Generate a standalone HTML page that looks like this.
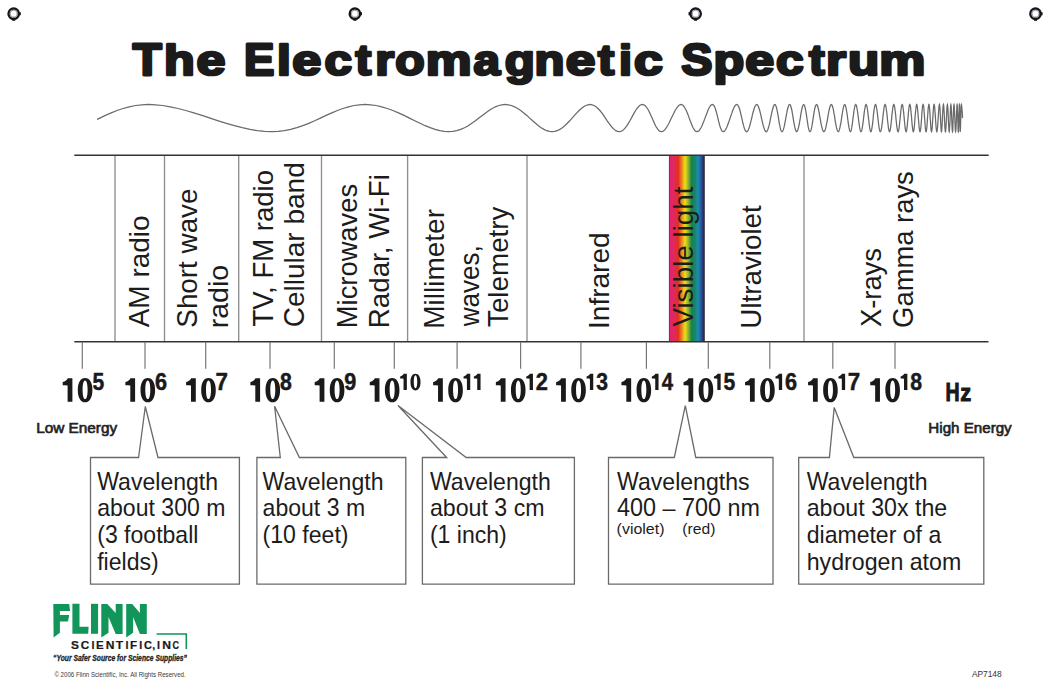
<!DOCTYPE html><html><head><meta charset="utf-8"><style>
html,body{margin:0;padding:0;background:#fff;width:1050px;height:700px;overflow:hidden}
svg{display:block;font-family:'Liberation Sans',sans-serif}
text{font-family:'Liberation Sans',sans-serif}
</style></head><body>
<svg width="1050" height="700" viewBox="0 0 1050 700">
<defs>
<linearGradient id="spec" x1="0" x2="1" y1="0" y2="0">
<stop offset="0" stop-color="#e01f7c"/>
<stop offset="0.15" stop-color="#e02a58"/>
<stop offset="0.26" stop-color="#e0301e"/>
<stop offset="0.36" stop-color="#ee8420"/>
<stop offset="0.45" stop-color="#eee012"/>
<stop offset="0.54" stop-color="#98b032"/>
<stop offset="0.63" stop-color="#0e8a44"/>
<stop offset="0.73" stop-color="#1e806e"/>
<stop offset="0.81" stop-color="#1890b0"/>
<stop offset="0.90" stop-color="#2a5a98"/>
<stop offset="0.97" stop-color="#282466"/>
<stop offset="1" stop-color="#282466"/>
</linearGradient>
</defs>
<rect width="1050" height="700" fill="#fff"/>

<circle cx="13.7" cy="13.7" r="5.15" fill="none" stroke="#161616" stroke-width="2.5"/>
<circle cx="13.7" cy="13.7" r="3.45" fill="none" stroke="#9ea1ad" stroke-width="1.2"/>
<rect x="17.80" y="12.20" width="3" height="3" fill="#161616"/>
<rect x="12.20" y="17.80" width="3" height="3" fill="#161616"/>
<circle cx="354.9" cy="13.7" r="5.15" fill="none" stroke="#161616" stroke-width="2.5"/>
<circle cx="354.9" cy="13.7" r="3.45" fill="none" stroke="#9ea1ad" stroke-width="1.2"/>
<rect x="359.00" y="12.20" width="3" height="3" fill="#161616"/>
<rect x="353.40" y="17.80" width="3" height="3" fill="#161616"/>
<circle cx="695.6" cy="13.7" r="5.15" fill="none" stroke="#161616" stroke-width="2.5"/>
<circle cx="695.6" cy="13.7" r="3.45" fill="none" stroke="#9ea1ad" stroke-width="1.2"/>
<rect x="688.50" y="12.20" width="3" height="3" fill="#161616"/>
<rect x="694.10" y="17.80" width="3" height="3" fill="#161616"/>
<circle cx="1035.5" cy="13.7" r="5.15" fill="none" stroke="#161616" stroke-width="2.5"/>
<circle cx="1035.5" cy="13.7" r="3.45" fill="none" stroke="#9ea1ad" stroke-width="1.2"/>
<rect x="1039.60" y="12.20" width="3" height="3" fill="#161616"/>
<rect x="1034.00" y="17.80" width="3" height="3" fill="#161616"/>
<g font-size="45.0" font-weight="bold" fill="#1b1b1b" stroke="#1b1b1b" stroke-linejoin="round">
<text transform="translate(132.84,74.50) scale(1.0546,1.0)" stroke-width="2.8">T</text>
<text transform="translate(163.95,74.50) scale(1.1168,0.951)" stroke-width="2.8">h</text>
<text transform="translate(196.49,74.50) scale(1.1577,0.951)" stroke-width="2.8">e</text>
<text transform="translate(243.97,74.50) scale(1.0126,1.0)" stroke-width="2.8">E</text>
<text transform="translate(277.08,74.50) scale(1.1031,0.951)" stroke-width="2.8">l</text>
<text transform="translate(292.18,74.50) scale(1.1618,0.951)" stroke-width="2.8">e</text>
<text transform="translate(324.41,74.50) scale(1.0990,0.951)" stroke-width="2.8">c</text>
<text transform="translate(355.49,74.50) scale(1.0487,0.951)" stroke-width="2.8">t</text>
<text transform="translate(375.31,74.50) scale(1.0801,0.951)" stroke-width="2.8">r</text>
<text transform="translate(395.32,74.50) scale(1.0683,0.951)" stroke-width="2.8">o</text>
<text transform="translate(425.81,74.50) scale(1.1442,0.951)" stroke-width="2.8">m</text>
<text transform="translate(473.39,74.50) scale(1.0599,0.951)" stroke-width="2.8">a</text>
<text transform="translate(504.71,74.50) scale(1.0931,0.951)" stroke-width="2.8">g</text>
<text transform="translate(534.40,74.50) scale(1.0884,0.951)" stroke-width="2.8">n</text>
<text transform="translate(565.78,74.50) scale(1.1863,0.951)" stroke-width="2.8">e</text>
<text transform="translate(598.02,74.50) scale(1.0787,0.951)" stroke-width="2.8">t</text>
<text transform="translate(618.89,74.50) scale(1.0363,0.951)" stroke-width="2.8">i</text>
<text transform="translate(633.89,74.50) scale(1.1515,0.951)" stroke-width="2.8">c</text>
<text transform="translate(681.31,74.50) scale(1.0383,1.0)" stroke-width="2.8">S</text>
<text transform="translate(713.45,74.50) scale(1.1187,0.951)" stroke-width="2.8">p</text>
<text transform="translate(745.19,74.50) scale(1.1577,0.951)" stroke-width="2.8">e</text>
<text transform="translate(776.11,74.50) scale(1.1030,0.951)" stroke-width="2.8">c</text>
<text transform="translate(808.89,74.50) scale(1.0427,0.951)" stroke-width="2.8">t</text>
<text transform="translate(826.10,74.50) scale(1.1461,0.951)" stroke-width="2.8">r</text>
<text transform="translate(847.92,74.50) scale(1.1373,0.951)" stroke-width="2.8">u</text>
<text transform="translate(879.30,74.50) scale(1.1523,0.951)" stroke-width="2.8">m</text>
</g>
<path d="M97.1,119.4 99.8,118.1 105.4,115.4 111.2,112.9 117.0,110.5 123.1,108.5 129.2,106.8 135.5,105.5 142.0,104.8 148.6,104.5 155.5,104.8 162.7,105.5 170.2,106.8 177.9,108.5 185.8,110.5 193.8,112.9 202.0,115.4 210.1,118.1 218.3,120.8 226.4,123.3 234.4,125.7 242.3,127.7 250.0,129.4 257.4,130.7 264.6,131.4 271.4,131.7 278.0,131.4 284.4,130.7 290.7,129.4 296.8,127.7 302.9,125.7 308.8,123.3 314.7,120.8 320.4,118.1 326.1,115.4 331.8,112.9 337.4,110.5 342.9,108.5 348.5,106.8 354.0,105.5 359.5,104.8 365.0,104.5 370.5,104.8 376.1,105.5 381.7,106.8 387.3,108.5 392.9,110.5 398.5,112.9 404.0,115.4 409.4,118.1 414.8,120.8 420.0,123.3 425.2,125.7 430.2,127.7 435.1,129.4 439.8,130.7 444.3,131.4 448.6,131.7 452.8,131.4 456.8,130.7 460.7,129.4 464.5,127.7 468.2,125.7 471.8,123.3 475.4,120.8 478.9,118.1 482.3,115.4 485.6,112.9 489.0,110.5 492.2,108.5 495.5,106.8 498.7,105.5 501.9,104.8 505.1,104.5 508.3,104.8 511.4,105.5 514.6,106.8 517.7,108.5 520.7,110.5 523.8,112.9 526.8,115.4 529.7,118.1 532.6,120.8 535.5,123.3 538.4,125.7 541.2,127.7 543.9,129.4 546.7,130.7 549.4,131.4 552.0,131.7 554.6,131.4 557.2,130.7 559.8,129.4 562.3,127.7 564.8,125.7 567.3,123.3 569.7,120.8 572.1,118.1 574.5,115.4 576.8,112.9 579.1,110.5 581.4,108.5 583.6,106.8 585.8,105.5 587.9,104.8 590.0,104.5 592.0,104.8 594.1,105.5 596.0,106.8 598.0,108.5 599.9,110.5 601.8,112.9 603.6,115.4 605.4,118.1 607.2,120.8 609.0,123.3 610.7,125.7 612.5,127.7 614.2,129.4 615.8,130.7 617.5,131.4 619.1,131.7 620.7,131.4 622.3,130.7 623.9,129.4 625.4,127.7 626.9,125.7 628.4,123.3 629.9,120.8 631.4,118.1 632.8,115.4 634.2,112.9 635.6,110.5 637.0,108.5 638.4,106.8 639.7,105.5 641.1,104.8 642.4,104.5 643.7,104.8 645.0,105.5 646.2,106.8 647.4,108.5 648.6,110.5 649.8,112.9 650.9,115.4 652.1,118.1 653.3,120.8 654.4,123.3 655.5,125.7 656.7,127.7 657.9,129.4 659.0,130.7 660.2,131.4 661.4,131.7 662.6,131.4 663.8,130.7 665.1,129.4 666.4,127.7 667.6,125.7 668.9,123.3 670.1,120.8 671.4,118.1 672.7,115.4 673.9,112.9 675.1,110.5 676.4,108.5 677.6,106.8 678.7,105.5 679.9,104.8 681.0,104.5 682.1,104.8 683.2,105.5 684.2,106.8 685.2,108.5 686.3,110.5 687.3,112.9 688.3,115.4 689.2,118.1 690.2,120.8 691.2,123.3 692.2,125.7 693.1,127.7 694.1,129.4 695.1,130.7 696.0,131.4 697.0,131.7 698.0,131.4 699.0,130.7 700.0,129.4 701.0,127.7 702.0,125.7 703.0,123.3 704.0,120.8 705.0,118.1 706.0,115.4 707.0,112.9 707.9,110.5 708.8,108.5 709.8,106.8 710.6,105.5 711.5,104.8 712.3,104.5 713.1,104.8 713.8,105.5 714.6,106.8 715.3,108.5 715.9,110.5 716.6,112.9 717.2,115.4 717.9,118.1 718.5,120.8 719.2,123.3 719.8,125.7 720.5,127.7 721.2,129.4 721.8,130.7 722.6,131.4 723.3,131.7 724.1,131.4 724.9,130.7 725.7,129.4 726.6,127.7 727.4,125.7 728.3,123.3 729.2,120.8 730.1,118.1 731.0,115.4 731.9,112.9 732.7,110.5 733.6,108.5 734.4,106.8 735.2,105.5 736.0,104.8 736.7,104.5 737.4,104.8 738.1,105.5 738.7,106.8 739.4,108.5 740.0,110.5 740.6,112.9 741.2,115.4 741.8,118.1 742.4,120.8 743.0,123.3 743.6,125.7 744.2,127.7 744.8,129.4 745.4,130.7 746.0,131.4 746.6,131.7 747.2,131.4 747.9,130.7 748.5,129.4 749.1,127.7 749.8,125.7 750.4,123.3 751.0,120.8 751.7,118.1 752.3,115.4 752.9,112.9 753.6,110.5 754.2,108.5 754.8,106.8 755.5,105.5 756.1,104.8 756.7,104.5 757.3,104.8 757.9,105.5 758.5,106.8 759.1,108.5 759.7,110.5 760.3,112.9 760.9,115.4 761.5,118.1 762.1,120.8 762.7,123.3 763.3,125.7 763.9,127.7 764.5,129.4 765.1,130.7 765.6,131.4 766.2,131.7 766.8,131.4 767.3,130.7 767.9,129.4 768.4,127.7 769.0,125.7 769.6,123.3 770.1,120.8 770.6,118.1 771.2,115.4 771.7,112.9 772.3,110.5 772.8,108.5 773.3,106.8 773.8,105.5 774.3,104.8 774.8,104.5 775.3,104.8 775.8,105.5 776.2,106.8 776.7,108.5 777.1,110.5 777.6,112.9 778.0,115.4 778.5,118.1 778.9,120.8 779.3,123.3 779.8,125.7 780.2,127.7 780.6,129.4 781.1,130.7 781.5,131.4 782.0,131.7 782.5,131.4 782.9,130.7 783.4,129.4 783.9,127.7 784.4,125.7 784.8,123.3 785.3,120.8 785.8,118.1 786.3,115.4 786.8,112.9 787.2,110.5 787.7,108.5 788.2,106.8 788.7,105.5 789.1,104.8 789.6,104.5 790.1,104.8 790.5,105.5 791.0,106.8 791.4,108.5 791.9,110.5 792.3,112.9 792.7,115.4 793.2,118.1 793.6,120.8 794.1,123.3 794.5,125.7 794.9,127.7 795.4,129.4 795.8,130.7 796.3,131.4 796.7,131.7 797.1,131.4 797.6,130.7 798.0,129.4 798.5,127.7 798.9,125.7 799.4,123.3 799.8,120.8 800.3,118.1 800.7,115.4 801.1,112.9 801.6,110.5 802.0,108.5 802.4,106.8 802.9,105.5 803.3,104.8 803.7,104.5 804.1,104.8 804.5,105.5 804.9,106.8 805.3,108.5 805.7,110.5 806.1,112.9 806.5,115.4 806.9,118.1 807.3,120.8 807.7,123.3 808.0,125.7 808.4,127.7 808.8,129.4 809.2,130.7 809.6,131.4 810.0,131.7 810.4,131.4 810.8,130.7 811.2,129.4 811.6,127.7 812.0,125.7 812.4,123.3 812.8,120.8 813.2,118.1 813.6,115.4 814.0,112.9 814.4,110.5 814.8,108.5 815.2,106.8 815.7,105.5 816.1,104.8 816.5,104.5 816.9,104.8 817.4,105.5 817.8,106.8 818.3,108.5 818.7,110.5 819.2,112.9 819.6,115.4 820.1,118.1 820.6,120.8 821.0,123.3 821.5,125.7 822.0,127.7 822.4,129.4 822.9,130.7 823.4,131.4 823.9,131.7 824.3,131.4 824.8,130.7 825.3,129.4 825.8,127.7 826.2,125.7 826.7,123.3 827.2,120.8 827.7,118.1 828.1,115.4 828.6,112.9 829.0,110.5 829.5,108.5 830.0,106.8 830.4,105.5 830.9,104.8 831.3,104.5 831.7,104.8 832.2,105.5 832.6,106.8 833.1,108.5 833.5,110.5 833.9,112.9 834.4,115.4 834.8,118.1 835.2,120.8 835.7,123.3 836.1,125.7 836.5,127.7 837.0,129.4 837.4,130.7 837.8,131.4 838.2,131.7 838.7,131.4 839.1,130.7 839.5,129.4 839.9,127.7 840.3,125.7 840.8,123.3 841.2,120.8 841.6,118.1 842.0,115.4 842.4,112.9 842.8,110.5 843.2,108.5 843.6,106.8 843.9,105.5 844.3,104.8 844.7,104.5 845.1,104.8 845.4,105.5 845.8,106.8 846.2,108.5 846.5,110.5 846.9,112.9 847.3,115.4 847.6,118.1 848.0,120.8 848.3,123.3 848.7,125.7 849.0,127.7 849.4,129.4 849.7,130.7 850.0,131.4 850.4,131.7 850.7,131.4 851.0,130.7 851.4,129.4 851.7,127.7 852.0,125.7 852.4,123.3 852.7,120.8 853.0,118.1 853.4,115.4 853.7,112.9 854.0,110.5 854.4,108.5 854.7,106.8 855.0,105.5 855.4,104.8 855.7,104.5 856.0,104.8 856.4,105.5 856.7,106.8 857.0,108.5 857.4,110.5 857.7,112.9 858.0,115.4 858.4,118.1 858.7,120.8 859.0,123.3 859.4,125.7 859.7,127.7 860.0,129.4 860.3,130.7 860.7,131.4 861.0,131.7 861.3,131.4 861.7,130.7 862.0,129.4 862.3,127.7 862.6,125.7 862.9,123.3 863.3,120.8 863.6,118.1 863.9,115.4 864.2,112.9 864.5,110.5 864.9,108.5 865.2,106.8 865.5,105.5 865.8,104.8 866.1,104.5 866.4,104.8 866.7,105.5 867.0,106.8 867.3,108.5 867.6,110.5 867.9,112.9 868.2,115.4 868.5,118.1 868.8,120.8 869.1,123.3 869.4,125.7 869.7,127.7 870.0,129.4 870.3,130.7 870.6,131.4 870.8,131.7 871.1,131.4 871.4,130.7 871.7,129.4 872.0,127.7 872.3,125.7 872.6,123.3 872.9,120.8 873.2,118.1 873.4,115.4 873.7,112.9 874.0,110.5 874.3,108.5 874.6,106.8 874.9,105.5 875.2,104.8 875.5,104.5 875.8,104.8 876.1,105.5 876.4,106.8 876.7,108.5 877.0,110.5 877.3,112.9 877.6,115.4 877.9,118.1 878.2,120.8 878.5,123.3 878.8,125.7 879.1,127.7 879.4,129.4 879.7,130.7 880.0,131.4 880.3,131.7 880.7,131.4 881.0,130.7 881.3,129.4 881.6,127.7 881.9,125.7 882.2,123.3 882.5,120.8 882.8,118.1 883.1,115.4 883.4,112.9 883.7,110.5 883.9,108.5 884.2,106.8 884.5,105.5 884.8,104.8 885.1,104.5 885.4,104.8 885.7,105.5 885.9,106.8 886.2,108.5 886.5,110.5 886.8,112.9 887.1,115.4 887.3,118.1 887.6,120.8 887.9,123.3 888.2,125.7 888.4,127.7 888.7,129.4 889.0,130.7 889.3,131.4 889.5,131.7 889.8,131.4 890.1,130.7 890.3,129.4 890.6,127.7 890.9,125.7 891.1,123.3 891.4,120.8 891.7,118.1 891.9,115.4 892.2,112.9 892.5,110.5 892.7,108.5 893.0,106.8 893.3,105.5 893.5,104.8 893.8,104.5 894.1,104.8 894.3,105.5 894.6,106.8 894.9,108.5 895.1,110.5 895.4,112.9 895.7,115.4 895.9,118.1 896.2,120.8 896.5,123.3 896.7,125.7 897.0,127.7 897.3,129.4 897.5,130.7 897.8,131.4 898.1,131.7 898.3,131.4 898.6,130.7 898.9,129.4 899.1,127.7 899.4,125.7 899.6,123.3 899.9,120.8 900.2,118.1 900.4,115.4 900.7,112.9 900.9,110.5 901.2,108.5 901.4,106.8 901.7,105.5 901.9,104.8 902.2,104.5 902.4,104.8 902.7,105.5 902.9,106.8 903.2,108.5 903.4,110.5 903.7,112.9 903.9,115.4 904.2,118.1 904.4,120.8 904.7,123.3 904.9,125.7 905.1,127.7 905.4,129.4 905.6,130.7 905.9,131.4 906.1,131.7 906.3,131.4 906.6,130.7 906.8,129.4 907.0,127.7 907.3,125.7 907.5,123.3 907.7,120.8 908.0,118.1 908.2,115.4 908.4,112.9 908.7,110.5 908.9,108.5 909.1,106.8 909.3,105.5 909.6,104.8 909.8,104.5 910.0,104.8 910.3,105.5 910.5,106.8 910.7,108.5 910.9,110.5 911.1,112.9 911.4,115.4 911.6,118.1 911.8,120.8 912.0,123.3 912.2,125.7 912.5,127.7 912.7,129.4 912.9,130.7 913.1,131.4 913.3,131.7 913.5,131.4 913.8,130.7 914.0,129.4 914.2,127.7 914.4,125.7 914.6,123.3 914.8,120.8 915.0,118.1 915.2,115.4 915.4,112.9 915.7,110.5 915.9,108.5 916.1,106.8 916.3,105.5 916.5,104.8 916.7,104.5 916.9,104.8 917.1,105.5 917.3,106.8 917.5,108.5 917.7,110.5 917.9,112.9 918.1,115.4 918.3,118.1 918.6,120.8 918.8,123.3 919.0,125.7 919.2,127.7 919.4,129.4 919.6,130.7 919.8,131.4 920.0,131.7 920.2,131.4 920.4,130.7 920.6,129.4 920.8,127.7 921.0,125.7 921.2,123.3 921.4,120.8 921.6,118.1 921.8,115.4 921.9,112.9 922.1,110.5 922.3,108.5 922.5,106.8 922.7,105.5 922.9,104.8 923.1,104.5 923.3,104.8 923.5,105.5 923.7,106.8 923.9,108.5 924.0,110.5 924.2,112.9 924.4,115.4 924.6,118.1 924.8,120.8 925.0,123.3 925.2,125.7 925.3,127.7 925.5,129.4 925.7,130.7 925.9,131.4 926.1,131.7 926.3,131.4 926.4,130.7 926.6,129.4 926.8,127.7 927.0,125.7 927.2,123.3 927.3,120.8 927.5,118.1 927.7,115.4 927.9,112.9 928.0,110.5 928.2,108.5 928.4,106.8 928.6,105.5 928.7,104.8 928.9,104.5 929.1,104.8 929.2,105.5 929.4,106.8 929.6,108.5 929.7,110.5 929.9,112.9 930.1,115.4 930.2,118.1 930.4,120.8 930.6,123.3 930.7,125.7 930.9,127.7 931.0,129.4 931.2,130.7 931.4,131.4 931.5,131.7 931.7,131.4 931.8,130.7 932.0,129.4 932.2,127.7 932.3,125.7 932.5,123.3 932.6,120.8 932.8,118.1 933.0,115.4 933.1,112.9 933.3,110.5 933.4,108.5 933.6,106.8 933.8,105.5 933.9,104.8 934.1,104.5 934.3,104.8 934.4,105.5 934.6,106.8 934.8,108.5 934.9,110.5 935.1,112.9 935.3,115.4 935.5,118.1 935.6,120.8 935.8,123.3 936.0,125.7 936.1,127.7 936.3,129.4 936.5,130.7 936.7,131.4 936.8,131.7 937.0,131.4 937.2,130.7 937.3,129.4 937.5,127.7 937.7,125.7 937.8,123.3 938.0,120.8 938.2,118.1 938.3,115.4 938.5,112.9 938.7,110.5 938.8,108.5 939.0,106.8 939.1,105.5 939.3,104.8 939.4,104.5 939.5,104.8 939.7,105.5 939.8,106.8 940.0,108.5 940.1,110.5 940.2,112.9 940.3,115.4 940.5,118.1 940.6,120.8 940.7,123.3 940.9,125.7 941.0,127.7 941.1,129.4 941.2,130.7 941.3,131.4 941.5,131.7 941.6,131.4 941.7,130.7 941.8,129.4 941.9,127.7 942.1,125.7 942.2,123.3 942.3,120.8 942.4,118.1 942.5,115.4 942.7,112.9 942.8,110.5 942.9,108.5 943.0,106.8 943.2,105.5 943.3,104.8 943.4,104.5 943.5,104.8 943.7,105.5 943.8,106.8 943.9,108.5 944.0,110.5 944.2,112.9 944.3,115.4 944.4,118.1 944.5,120.8 944.7,123.3 944.8,125.7 944.9,127.7 945.1,129.4 945.2,130.7 945.3,131.4 945.4,131.7 945.6,131.4 945.7,130.7 945.8,129.4 945.9,127.7 946.1,125.7 946.2,123.3 946.3,120.8 946.4,118.1 946.6,115.4 946.7,112.9 946.8,110.5 946.9,108.5 947.0,106.8 947.2,105.5 947.3,104.8 947.4,104.5 947.5,104.8 947.6,105.5 947.7,106.8 947.9,108.5 948.0,110.5 948.1,112.9 948.2,115.4 948.3,118.1 948.4,120.8 948.5,123.3 948.7,125.7 948.8,127.7 948.9,129.4 949.0,130.7 949.1,131.4 949.2,131.7 949.3,131.4 949.4,130.7 949.5,129.4 949.6,127.7 949.7,125.7 949.9,123.3 950.0,120.8 950.1,118.1 950.2,115.4 950.3,112.9 950.4,110.5 950.5,108.5 950.6,106.8 950.7,105.5 950.8,104.8 950.9,104.5 951.0,104.8 951.1,105.5 951.2,106.8 951.3,108.5 951.4,110.5 951.5,112.9 951.6,115.4 951.7,118.1 951.8,120.8 951.9,123.3 952.0,125.7 952.1,127.7 952.2,129.4 952.3,130.7 952.4,131.4 952.5,131.7 952.6,131.4 952.7,130.7 952.8,129.4 952.9,127.7 952.9,125.7 953.0,123.3 953.1,120.8 953.2,118.1 953.3,115.4 953.4,112.9 953.5,110.5 953.6,108.5 953.7,106.8 953.8,105.5 953.9,104.8 954.0,104.5 954.1,104.8 954.2,105.5 954.3,106.8 954.4,108.5 954.5,110.5 954.6,112.9 954.7,115.4 954.8,118.1 954.9,120.8 955.0,123.3 955.1,125.7 955.2,127.7 955.3,129.4 955.4,130.7 955.5,131.4 955.6,131.7 955.7,131.4 955.8,130.7 955.9,129.4 956.0,127.7 956.1,125.7 956.2,123.3 956.3,120.8 956.4,118.1 956.5,115.4 956.6,112.9 956.7,110.5 956.8,108.5 956.8,106.8 956.9,105.5 957.0,104.8 957.1,104.5 957.2,104.8 957.3,105.5 957.3,106.8 957.4,108.5 957.5,110.5 957.6,112.9 957.7,115.4 957.7,118.1 957.8,120.8 957.9,123.3 958.0,125.7 958.0,127.7 958.1,129.4 958.2,130.7 958.2,131.4 958.3,131.7 958.4,131.4 958.5,130.7 958.5,129.4 958.6,127.7 958.7,125.7 958.7,123.3 958.8,120.8 958.9,118.1 958.9,115.4 959.0,112.9 959.1,110.5 959.1,108.5 959.2,106.8 959.3,105.5 959.3,104.8 959.4,104.5 959.5,104.8 959.5,105.5 959.6,106.8 959.6,108.5 959.7,110.5 959.8,112.9 959.8,115.4 959.9,118.1 959.9,120.8 960.0,123.3 960.0,125.7 960.1,127.7 960.1,129.4 960.2,130.7 960.2,131.4 960.3,131.7 960.3,131.4 960.4,130.7 960.4,129.4 960.5,127.7 960.6,125.7 960.6,123.3 960.7,120.8 960.8,118.1 960.8,115.4 960.9,112.9 961.0,110.5 961.0,108.5 961.1,106.8 961.2,105.5 961.3,104.8 961.4,104.5 961.5,104.8 961.6,105.5 961.8,106.8 961.9,108.5 962.1,110.5 962.3,112.9 962.4,115.4 962.6,118.1" fill="none" stroke="#6a6a6a" stroke-width="1.25"/>
<g stroke="#8e8e8e" stroke-width="1.35">
<line x1="115" y1="155.5" x2="115" y2="341.5"/>
<line x1="164.5" y1="155.5" x2="164.5" y2="341.5"/>
<line x1="238.7" y1="155.5" x2="238.7" y2="341.5"/>
<line x1="321.5" y1="155.5" x2="321.5" y2="341.5"/>
<line x1="407.6" y1="155.5" x2="407.6" y2="341.5"/>
<line x1="527" y1="155.5" x2="527" y2="341.5"/>
<line x1="804" y1="155.5" x2="804" y2="341.5"/>
</g>
<rect x="669" y="155" width="35.6" height="187" fill="url(#spec)"/>
<g stroke="#4a4a4a" stroke-width="0.9"><line x1="669.4" y1="155" x2="669.4" y2="342"/><line x1="704.3" y1="155" x2="704.3" y2="342"/></g>
<g stroke="#333" stroke-width="1.6">
<line x1="74.3" y1="155.3" x2="988.7" y2="155.3"/>
<line x1="74.3" y1="341.8" x2="988.5" y2="341.8"/>
</g>
<g stroke="#777" stroke-width="1.2">
<line x1="82.3" y1="342" x2="82.3" y2="368.7"/>
<line x1="145" y1="342" x2="145" y2="368.7"/>
<line x1="205.7" y1="342" x2="205.7" y2="368.7"/>
<line x1="270" y1="342" x2="270" y2="368.7"/>
<line x1="334.3" y1="342" x2="334.3" y2="368.7"/>
<line x1="394.3" y1="342" x2="394.3" y2="368.7"/>
<line x1="457.1" y1="342" x2="457.1" y2="368.7"/>
<line x1="520.6" y1="342" x2="520.6" y2="368.7"/>
<line x1="580.9" y1="342" x2="580.9" y2="368.7"/>
<line x1="646.4" y1="342" x2="646.4" y2="368.7"/>
<line x1="708.3" y1="342" x2="708.3" y2="368.7"/>
<line x1="769.8" y1="342" x2="769.8" y2="368.7"/>
<line x1="832.8" y1="342" x2="832.8" y2="368.7"/>
<line x1="895" y1="342" x2="895" y2="368.7"/>
</g>
<g transform="translate(148.90,327.35) rotate(-90) scale(1.0070,1)" font-size="27.8" fill="#1c1c1c">
<text transform="translate(0.000,0) scale(1,1.05)">AM</text>
<text transform="translate(49.422,0) scale(1,1.0)">radio</text>
</g>
<g transform="translate(196.90,327.66) rotate(-90) scale(1.0010,1)" font-size="27.8" fill="#1c1c1c">
<text transform="translate(0.000,0) scale(1,1.05)">S</text>
<text transform="translate(18.547,0) scale(1,1.0)">hort wave</text>
</g>
<g transform="translate(227.80,328.29) rotate(-90) scale(1.0260,1)" font-size="27.8" fill="#1c1c1c">
<text transform="translate(0.000,0) scale(1,1.0)">radio</text>
</g>
<g transform="translate(272.90,326.52) rotate(-90) scale(0.9900,1)" font-size="27.8" fill="#1c1c1c">
<text transform="translate(0.000,0) scale(1,1.05)">TV</text>
<text transform="translate(32.969,0) scale(1,1.0)">,</text>
<text transform="translate(48.422,0) scale(1,1.05)">FM</text>
<text transform="translate(96.281,0) scale(1,1.0)">radio</text>
</g>
<g transform="translate(304.30,327.32) rotate(-90) scale(1.0080,1)" font-size="27.8" fill="#1c1c1c">
<text transform="translate(0.000,0) scale(1,1.05)">C</text>
<text transform="translate(20.078,0) scale(1,1.0)">ellular band</text>
</g>
<g transform="translate(357.00,328.14) rotate(-90) scale(0.9830,1)" font-size="27.8" fill="#1c1c1c">
<text transform="translate(0.000,0) scale(1,1.05)">M</text>
<text transform="translate(23.156,0) scale(1,1.0)">icrowaves</text>
</g>
<g transform="translate(388.60,328.17) rotate(-90) scale(0.9970,1)" font-size="27.8" fill="#1c1c1c">
<text transform="translate(0.000,0) scale(1,1.05)">R</text>
<text transform="translate(20.078,0) scale(1,1.0)">adar,</text>
<text transform="translate(89.625,0) scale(1,1.05)">W</text>
<text transform="translate(115.859,0) scale(1,1.0)">i-</text>
<text transform="translate(131.297,0) scale(1,1.05)">F</text>
<text transform="translate(148.281,0) scale(1,1.0)">i</text>
</g>
<g transform="translate(444.30,328.70) rotate(-90) scale(1.0070,1)" font-size="27.8" fill="#1c1c1c">
<text transform="translate(0.000,0) scale(1,1.05)">M</text>
<text transform="translate(23.156,0) scale(1,1.0)">illimeter</text>
</g>
<g transform="translate(478.60,326.36) rotate(-90) scale(0.9390,1)" font-size="27.8" fill="#1c1c1c">
<text transform="translate(0.000,0) scale(1,1.0)">waves,</text>
</g>
<g transform="translate(508.30,327.02) rotate(-90) scale(1.0000,1)" font-size="27.8" fill="#1c1c1c">
<text transform="translate(0.000,0) scale(1,1.05)">T</text>
<text transform="translate(13.906,0) scale(1,1.0)">elemetry</text>
</g>
<g transform="translate(609.00,328.99) rotate(-90) scale(1.0080,1)" font-size="27.8" fill="#1c1c1c">
<text transform="translate(0.000,0) scale(1,1.05)">I</text>
<text transform="translate(7.734,0) scale(1,1.0)">nfrared</text>
</g>
<g transform="translate(693.40,326.62) rotate(-90) scale(1.0000,1)" font-size="27.8" fill="#1c1c1c">
<text transform="translate(0.000,0) scale(1,1.05)">V</text>
<text transform="translate(18.047,0) scale(1,1.0)">isible light</text>
</g>
<g transform="translate(760.70,328.64) rotate(-90) scale(0.9980,1)" font-size="27.8" fill="#1c1c1c">
<text transform="translate(0.000,0) scale(1,1.05)">U</text>
<text transform="translate(20.078,0) scale(1,1.0)">ltraviolet</text>
</g>
<g transform="translate(880.90,327.12) rotate(-90) scale(0.9850,1)" font-size="27.8" fill="#1c1c1c">
<text transform="translate(0.000,0) scale(1,1.05)">X</text>
<text transform="translate(18.547,0) scale(1,1.0)">-rays</text>
</g>
<g transform="translate(912.60,327.88) rotate(-90) scale(0.9850,1)" font-size="27.8" fill="#1c1c1c">
<text transform="translate(0.000,0) scale(1,1.05)">G</text>
<text transform="translate(21.625,0) scale(1,1.0)">amma rays</text>
</g>
<defs><path id="g1" d="M0,-19.7 C2.6,-20.3 4.4,-21.5 5.0,-23.4 L9.7,-23.4 L9.7,0 L4.9,0 L4.9,-16.2 C3.4,-16.4 1.6,-16.5 0,-16.5 Z"/><path id="g0" d="M0.00,-11.55 C0.00,-19.05 2.77,-23.65 7.30,-23.65 C11.83,-23.65 14.60,-19.05 14.60,-11.55 C14.60,-4.05 11.83,0.55 7.30,0.55 C2.77,0.55 0.00,-4.05 0.00,-11.55 Z M4.80,-11.90 C4.80,-17.67 5.75,-21.20 7.30,-21.20 C8.85,-21.20 9.80,-17.67 9.80,-11.90 C9.80,-6.13 8.85,-2.60 7.30,-2.60 C5.75,-2.60 4.80,-6.13 4.80,-11.90 Z" fill-rule="evenodd"/></defs>
<g fill="#1a1a1a">
<use href="#g1" transform="translate(62.70,401.70) scale(1.0)"/>
<use href="#g0" transform="translate(77.80,401.70) scale(1.0)"/>
<text transform="translate(92.45,390.30) scale(0.9096,1)" font-size="23.2" font-weight="bold" fill="#1a1a1a" stroke="#1a1a1a" stroke-width="0.45">5</text>
<use href="#g1" transform="translate(125.40,401.70) scale(1.0)"/>
<use href="#g0" transform="translate(140.50,401.70) scale(1.0)"/>
<text transform="translate(155.00,390.30) scale(0.9363,1)" font-size="23.2" font-weight="bold" fill="#1a1a1a" stroke="#1a1a1a" stroke-width="0.45">6</text>
<use href="#g1" transform="translate(186.10,401.70) scale(1.0)"/>
<use href="#g0" transform="translate(201.20,401.70) scale(1.0)"/>
<text transform="translate(215.54,390.30) scale(0.9645,1)" font-size="23.2" font-weight="bold" fill="#1a1a1a" stroke="#1a1a1a" stroke-width="0.45">7</text>
<use href="#g1" transform="translate(250.40,401.70) scale(1.0)"/>
<use href="#g0" transform="translate(265.50,401.70) scale(1.0)"/>
<text transform="translate(280.12,390.30) scale(0.9168,1)" font-size="23.2" font-weight="bold" fill="#1a1a1a" stroke="#1a1a1a" stroke-width="0.45">8</text>
<use href="#g1" transform="translate(314.70,401.70) scale(1.0)"/>
<use href="#g0" transform="translate(329.80,401.70) scale(1.0)"/>
<text transform="translate(344.35,390.30) scale(0.9344,1)" font-size="23.2" font-weight="bold" fill="#1a1a1a" stroke="#1a1a1a" stroke-width="0.45">9</text>
<use href="#g1" transform="translate(369.76,401.70) scale(1.0)"/>
<use href="#g0" transform="translate(384.86,401.70) scale(1.0)"/>
<use href="#g1" transform="translate(400.16,390.00) scale(0.69)"/>
<use href="#g0" transform="translate(410.46,390.00) scale(0.69)"/>
<use href="#g1" transform="translate(433.15,401.70) scale(1.0)"/>
<use href="#g0" transform="translate(448.25,401.70) scale(1.0)"/>
<use href="#g1" transform="translate(463.55,390.00) scale(0.69)"/>
<use href="#g1" transform="translate(473.85,390.00) scale(0.69)"/>
<use href="#g1" transform="translate(495.85,401.70) scale(1.0)"/>
<use href="#g0" transform="translate(510.95,401.70) scale(1.0)"/>
<use href="#g1" transform="translate(526.25,390.00) scale(0.69)"/>
<text transform="translate(535.79,390.00) scale(0.9401,1)" font-size="23.2" font-weight="bold" fill="#1a1a1a" stroke="#1a1a1a" stroke-width="0.45">2</text>
<use href="#g1" transform="translate(556.15,401.70) scale(1.0)"/>
<use href="#g0" transform="translate(571.25,401.70) scale(1.0)"/>
<use href="#g1" transform="translate(586.55,390.00) scale(0.69)"/>
<text transform="translate(596.37,390.00) scale(0.9105,1)" font-size="23.2" font-weight="bold" fill="#1a1a1a" stroke="#1a1a1a" stroke-width="0.45">3</text>
<use href="#g1" transform="translate(621.45,401.70) scale(1.0)"/>
<use href="#g0" transform="translate(636.55,401.70) scale(1.0)"/>
<use href="#g1" transform="translate(651.85,390.00) scale(0.69)"/>
<text transform="translate(661.84,390.00) scale(0.8771,1)" font-size="23.2" font-weight="bold" fill="#1a1a1a" stroke="#1a1a1a" stroke-width="0.45">4</text>
<use href="#g1" transform="translate(683.55,401.70) scale(1.0)"/>
<use href="#g0" transform="translate(698.65,401.70) scale(1.0)"/>
<use href="#g1" transform="translate(713.95,390.00) scale(0.69)"/>
<text transform="translate(723.60,390.00) scale(0.9096,1)" font-size="23.2" font-weight="bold" fill="#1a1a1a" stroke="#1a1a1a" stroke-width="0.45">5</text>
<use href="#g1" transform="translate(745.05,401.70) scale(1.0)"/>
<use href="#g0" transform="translate(760.15,401.70) scale(1.0)"/>
<use href="#g1" transform="translate(775.45,390.00) scale(0.69)"/>
<text transform="translate(784.95,390.00) scale(0.9363,1)" font-size="23.2" font-weight="bold" fill="#1a1a1a" stroke="#1a1a1a" stroke-width="0.45">6</text>
<use href="#g1" transform="translate(808.05,401.70) scale(1.0)"/>
<use href="#g0" transform="translate(823.15,401.70) scale(1.0)"/>
<use href="#g1" transform="translate(838.45,390.00) scale(0.69)"/>
<text transform="translate(847.79,390.00) scale(0.9645,1)" font-size="23.2" font-weight="bold" fill="#1a1a1a" stroke="#1a1a1a" stroke-width="0.45">7</text>
<use href="#g1" transform="translate(870.25,401.70) scale(1.0)"/>
<use href="#g0" transform="translate(885.35,401.70) scale(1.0)"/>
<use href="#g1" transform="translate(900.65,390.00) scale(0.69)"/>
<text transform="translate(910.27,390.00) scale(0.9168,1)" font-size="23.2" font-weight="bold" fill="#1a1a1a" stroke="#1a1a1a" stroke-width="0.45">8</text>
</g>
<text transform="translate(945.49,401.2) scale(0.7553,1.0)" font-size="25.9" font-weight="bold" fill="#1a1a1a" stroke="#1a1a1a" stroke-width="1.0">H</text>
<text transform="translate(960.22,401.2) scale(0.8472,0.954)" font-size="25.9" font-weight="bold" fill="#1a1a1a" stroke="#1a1a1a" stroke-width="1.0">z</text>
<text transform="translate(36.14,432.60) scale(1.0955,1)" font-size="14.0" font-weight="normal" fill="#222" stroke="#222" stroke-width="0.6">Low Energy</text>
<text transform="translate(928.36,432.70) scale(1.0822,1)" font-size="14.0" font-weight="normal" fill="#222" stroke="#222" stroke-width="0.6">High Energy</text>
<g fill="none" stroke="#6a6a6a" stroke-width="1.3" stroke-linejoin="miter">
<path d="M138.6,457.5 L145.3,406.5 L158,457.5 L239.4,457.5 L239.4,584.1 L90.5,584.1 L90.5,457.5 Z"/>
<path d="M280.3,457.5 L274.6,406.2 L299.4,457.5 L405.8,457.5 L405.8,584.1 L256.9,584.1 L256.9,457.5 Z"/>
<path d="M446.6,457.5 L398,405.5 L466.2,457.5 L574.4,457.5 L574.4,584.1 L422.4,584.1 L422.4,457.5 Z"/>
<path d="M674.3,457.5 L685.3,405.7 L695.8,457.5 L773,457.5 L773,584.1 L608.5,584.1 L608.5,457.5 Z"/>
<path d="M829.4,457.5 L834.2,407.6 L853.8,457.5 L983.8,457.5 L983.8,584.1 L798.7,584.1 L798.7,457.5 Z"/>
</g>
<g transform="translate(97.20,489.60) scale(0.9610,1)" font-size="24.0" fill="#1c1c1c">
<text transform="translate(0.000,0) scale(1,1.04)">W</text>
<text transform="translate(21.766,0) scale(1,1.0)">avelength</text>
</g>
<g transform="translate(97.20,516.30) scale(0.9610,1)" font-size="24.0" fill="#1c1c1c">
<text transform="translate(0.000,0) scale(1,1.0)">about</text>
<text transform="translate(66.734,0) scale(1,1.04)">300</text>
<text transform="translate(113.438,0) scale(1,1.0)">m</text>
</g>
<g transform="translate(97.20,543.00) scale(0.9610,1)" font-size="24.0" fill="#1c1c1c">
<text transform="translate(0.000,0) scale(1,1.0)">(</text>
<text transform="translate(8.000,0) scale(1,1.04)">3</text>
<text transform="translate(28.016,0) scale(1,1.0)">football</text>
</g>
<g transform="translate(97.20,569.70) scale(0.9610,1)" font-size="24.0" fill="#1c1c1c">
<text transform="translate(0.000,0) scale(1,1.0)">fields)</text>
</g>
<g transform="translate(262.60,489.60) scale(0.9610,1)" font-size="24.0" fill="#1c1c1c">
<text transform="translate(0.000,0) scale(1,1.04)">W</text>
<text transform="translate(21.766,0) scale(1,1.0)">avelength</text>
</g>
<g transform="translate(262.60,516.30) scale(0.9610,1)" font-size="24.0" fill="#1c1c1c">
<text transform="translate(0.000,0) scale(1,1.0)">about</text>
<text transform="translate(66.734,0) scale(1,1.04)">3</text>
<text transform="translate(86.750,0) scale(1,1.0)">m</text>
</g>
<g transform="translate(262.60,543.00) scale(0.9610,1)" font-size="24.0" fill="#1c1c1c">
<text transform="translate(0.000,0) scale(1,1.0)">(</text>
<text transform="translate(8.000,0) scale(1,1.04)">10</text>
<text transform="translate(41.359,0) scale(1,1.0)">feet)</text>
</g>
<g transform="translate(429.90,489.60) scale(0.9610,1)" font-size="24.0" fill="#1c1c1c">
<text transform="translate(0.000,0) scale(1,1.04)">W</text>
<text transform="translate(21.766,0) scale(1,1.0)">avelength</text>
</g>
<g transform="translate(429.90,516.30) scale(0.9658,1)" font-size="24.0" fill="#1c1c1c">
<text transform="translate(0.000,0) scale(1,1.0)">about</text>
<text transform="translate(66.734,0) scale(1,1.04)">3</text>
<text transform="translate(86.750,0) scale(1,1.0)">cm</text>
</g>
<g transform="translate(429.90,543.00) scale(0.9610,1)" font-size="24.0" fill="#1c1c1c">
<text transform="translate(0.000,0) scale(1,1.0)">(</text>
<text transform="translate(8.000,0) scale(1,1.04)">1</text>
<text transform="translate(28.016,0) scale(1,1.0)">inch)</text>
</g>
<g transform="translate(617.10,489.60) scale(0.9610,1)" font-size="24.0" fill="#1c1c1c">
<text transform="translate(0.000,0) scale(1,1.04)">W</text>
<text transform="translate(21.766,0) scale(1,1.0)">avelengths</text>
</g>
<g transform="translate(617.10,516.30) scale(0.9735,1)" font-size="24.0" fill="#1c1c1c">
<text transform="translate(0.000,0) scale(1,1.04)">400</text>
<text transform="translate(46.719,0) scale(1,1.0)">–</text>
<text transform="translate(66.734,0) scale(1,1.04)">700</text>
<text transform="translate(113.438,0) scale(1,1.0)">nm</text>
</g>
<g transform="translate(806.70,489.60) scale(0.9610,1)" font-size="24.0" fill="#1c1c1c">
<text transform="translate(0.000,0) scale(1,1.04)">W</text>
<text transform="translate(21.766,0) scale(1,1.0)">avelength</text>
</g>
<g transform="translate(806.70,516.30) scale(0.9658,1)" font-size="24.0" fill="#1c1c1c">
<text transform="translate(0.000,0) scale(1,1.0)">about</text>
<text transform="translate(66.734,0) scale(1,1.04)">30</text>
<text transform="translate(93.422,0) scale(1,1.0)">x the</text>
</g>
<g transform="translate(806.70,543.00) scale(0.9610,1)" font-size="24.0" fill="#1c1c1c">
<text transform="translate(0.000,0) scale(1,1.0)">diameter of a</text>
</g>
<g transform="translate(806.70,569.70) scale(0.9658,1)" font-size="24.0" fill="#1c1c1c">
<text transform="translate(0.000,0) scale(1,1.0)">hydrogen atom</text>
</g>
<text transform="translate(616.61,533.90) scale(1.0429,1)" font-size="15.3" font-weight="normal" fill="#1c1c1c" >(violet)</text>
<text transform="translate(682.33,533.90) scale(1.0228,1)" font-size="15.3" font-weight="normal" fill="#1c1c1c" >(red)</text>
<g fill="#119558">
<path d="M53.3,604 L69.2,604 L70.1,611.1 L59.9,611.1 L59.9,615 L69.2,615 L68.0,621.6 L59.9,621.6 L59.9,632.7 L53.6,637.5 Z"/>
<path d="M72.4,603.8 L79.5,603.8 L79.5,626.7 L88.6,626.7 L88.2,633.8 L72.4,633.8 Z"/>
<path d="M91,603.8 L98.1,603.8 L98.1,633.8 L91,633.8 Z"/>
<path d="M101.3,604 L107.3,604 L115.7,613 L115.7,604 L122.6,604 L122.6,633.9 L115.7,633.9 L108.5,617 L108.5,632.8 L101.3,637.6 Z"/>
<path d="M126.2,604 L132.2,604 L139.9,613 L139.9,604 L146.8,604 L146.8,633.9 L139.9,633.9 L133.1,617 L133.1,632.8 L126.2,637.6 Z"/>
</g>
<path d="M156.6,634 L186.3,634 L186.3,649" fill="none" stroke="#119558" stroke-width="1.6"/>
<g stroke="#1a1a1a" stroke-width="0.2">
<text transform="translate(71.01,648.50) scale(1.1180,1)" font-size="10.6" font-weight="bold" fill="#1a1a1a" >S</text>
<text transform="translate(80.77,648.50) scale(1.1111,1)" font-size="10.6" font-weight="bold" fill="#1a1a1a" >C</text>
<text x="91.47" y="648.5" font-size="10.6" font-weight="bold" fill="#1a1a1a">I</text>
<text transform="translate(95.97,648.50) scale(1.0930,1)" font-size="10.6" font-weight="bold" fill="#1a1a1a" >E</text>
<text transform="translate(105.84,648.50) scale(1.1393,1)" font-size="10.6" font-weight="bold" fill="#1a1a1a" >N</text>
<text transform="translate(115.81,648.50) scale(1.1375,1)" font-size="10.6" font-weight="bold" fill="#1a1a1a" >T</text>
<text x="125.52" y="648.5" font-size="10.6" font-weight="bold" fill="#1a1a1a">I</text>
<text transform="translate(129.97,648.50) scale(1.0971,1)" font-size="10.6" font-weight="bold" fill="#1a1a1a" >F</text>
<text x="139.17" y="648.5" font-size="10.6" font-weight="bold" fill="#1a1a1a">I</text>
<text transform="translate(143.90,648.50) scale(1.0389,1)" font-size="10.6" font-weight="bold" fill="#1a1a1a" >C</text>
<text x="152.22" y="648.5" font-size="10.6" font-weight="bold" fill="#1a1a1a">,</text>
<text x="157.07" y="648.5" font-size="10.6" font-weight="bold" fill="#1a1a1a">I</text>
<text transform="translate(162.14,648.50) scale(1.1393,1)" font-size="10.6" font-weight="bold" fill="#1a1a1a" >N</text>
<text transform="translate(172.48,648.50) scale(0.8513,1)" font-size="10.6" font-weight="bold" fill="#1a1a1a" >C</text>
</g>
<text x="53" y="661" font-size="8.3" font-weight="bold" font-style="italic" fill="#1e1e1e" stroke="#1e1e1e" stroke-width="0.3" textLength="134" lengthAdjust="spacingAndGlyphs">“Your Safer Source for Science Supplies”</text>
<text x="54.4" y="676.8" font-size="6.8" fill="#3a3a3a" textLength="131.3" lengthAdjust="spacingAndGlyphs">© 2006 Flinn Scientific, Inc. All Rights Reserved.</text>
<text x="971.88" y="676.80" font-size="8.4" font-weight="normal" fill="#333" >AP7148</text>
</svg></body></html>
